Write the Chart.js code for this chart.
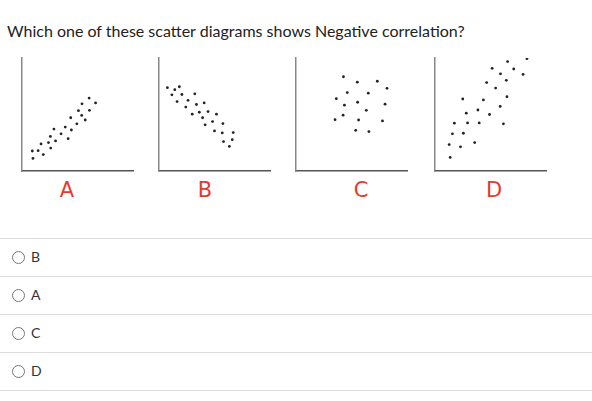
<!DOCTYPE html>
<html><head><meta charset="utf-8">
<script src="https://cdn.jsdelivr.net/npm/chart.js@4/dist/chart.umd.min.js"></script>
<style>
body{margin:0;width:592px;height:401px;background:#fff;font-family:Lato,sans-serif;position:relative;overflow:hidden}
.title{position:absolute;left:7px;top:21px;font-size:16px;color:#222}
.pc{position:absolute;width:119px;height:121px}
.lbl{position:absolute;top:178px;color:#e53a2c;font-size:21px;font-family:"DejaVu Sans",sans-serif;transform:translateX(-50%)}
.hr{position:absolute;left:0;width:592px;height:1px;background:#ddd}
.opt{position:absolute;left:31px;font-size:14px;color:#333}
.rad{position:absolute;left:12px;width:11px;height:11px;border:1px solid #777;border-radius:50%}
</style></head><body>
<div class="title">Which one of these scatter diagrams shows Negative correlation?</div>
<div class="pc" style="left:18px;top:54px"><canvas id="cA"></canvas></div>
<div class="pc" style="left:155px;top:54px"><canvas id="cB"></canvas></div>
<div class="pc" style="left:292px;top:54px"><canvas id="cC"></canvas></div>
<div class="pc" style="left:431px;top:54px"><canvas id="cD"></canvas></div>
<div class="lbl" style="left:67px">A</div>
<div class="lbl" style="left:205px">B</div>
<div class="lbl" style="left:361px">C</div>
<div class="lbl" style="left:494px">D</div>
<div id="opts"></div>
<script>
const optionLabels=["B","A","C","D"];
const pointsA=[[32,62],[50,63],[34,39],[66,51],[59,84],[82,88],[89,71],[88,107],[104,93],[99,130],[121,115],[134,136],[143,100],[153,127],[151,165],[170,146],[175,187],[185,172],[186,208],[196,158],[209,188],[208,226],[228,211]];
const pointsB=[[26,258],[49,252],[63,261],[40,236],[71,237],[111,239],[56,215],[90,219],[116,206],[140,211],[83,198],[103,176],[125,182],[135,165],[152,184],[178,176],[143,143],[166,153],[198,147],[172,124],[196,118],[230,119],[200,91],[227,97],[218,76]];
const pointsC=[[147,292],[190,275],[252,278],[282,256],[159,243],[224,241],[125,224],[191,213],[150,204],[276,207],[218,188],[121,159],[146,173],[194,158],[268,155],[185,126],[226,122]];
const pointsD=[[225,339],[285,348],[177,318],[203,301],[244,316],[273,299],[160,274],[221,281],[188,257],[86,223],[150,220],[223,230],[202,200],[133,189],[97,179],[169,175],[60,148],[101,149],[137,149],[212,146],[54,115],[88,117],[44,82],[79,75],[123,88],[47,42]];
const xMax=344,yMax=350;
function mk(id,pts){
  new Chart(document.getElementById(id),{type:'scatter',
    data:{datasets:[{data:pts.map(p=>({x:p[0],y:p[1]})),pointRadius:1.4,pointBackgroundColor:'#222',pointBorderWidth:0}]},
    options:{responsive:true,maintainAspectRatio:false,animation:false,layout:{padding:0},
      plugins:{legend:{display:false},tooltip:{enabled:false}},
      scales:{x:{display:true,min:0,max:xMax,ticks:{display:false,padding:0},grid:{display:false,drawTicks:false,tickLength:0},border:{color:'#555',width:1.5}},
              y:{display:true,min:0,max:yMax,ticks:{display:false,padding:0},grid:{display:false,drawTicks:false,tickLength:0},border:{color:'#888',width:1.5}}}}});
}
mk('cA',pointsA);mk('cB',pointsB);mk('cC',pointsC);mk('cD',pointsD);
const o=document.getElementById('opts');
let h='';
[238,276,314,352,390].forEach(y=>h+=`<div class="hr" style="top:${y}px"></div>`);
optionLabels.forEach((l,i)=>{const y=257+38*i;h+=`<div class="rad" style="top:${y-6}px"></div><div class="opt" style="top:${y-9}px">${l}</div>`});
o.innerHTML=h;
</script>
</body></html>
